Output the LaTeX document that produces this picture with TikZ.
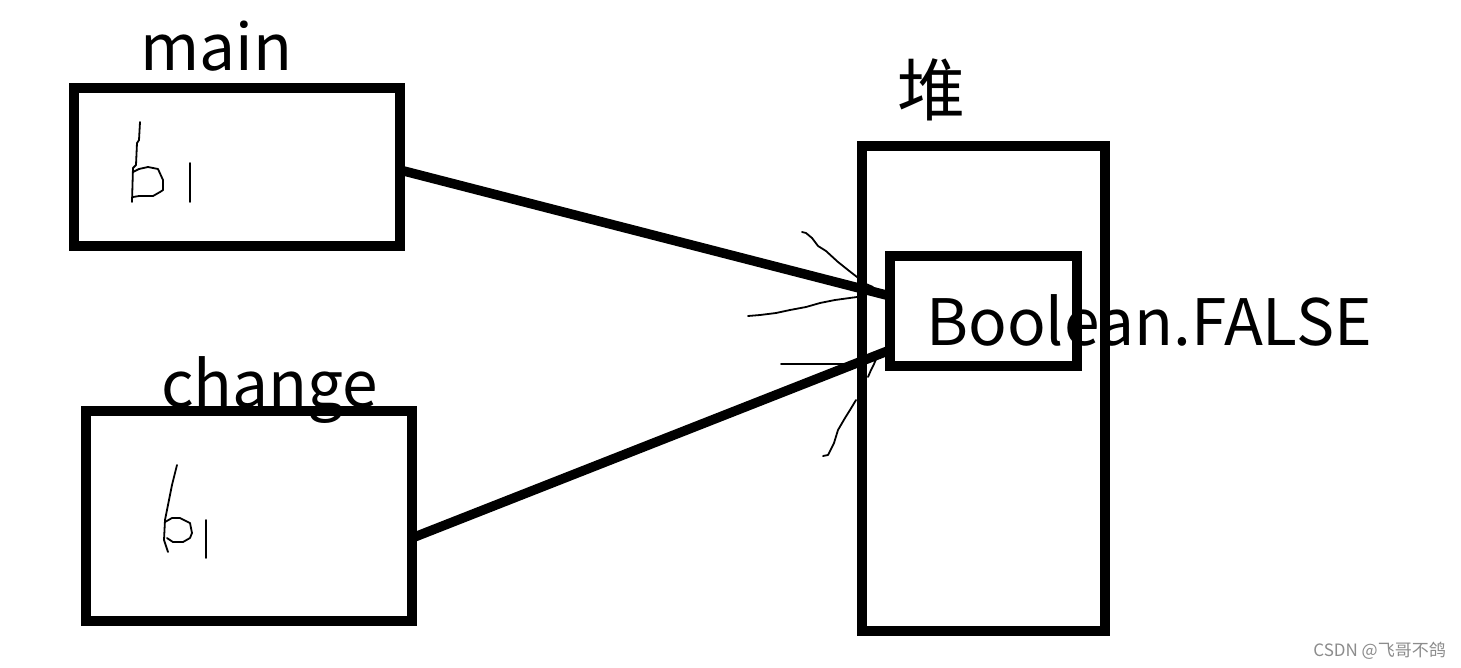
\documentclass[tikz,border=0pt]{standalone}
\usepackage{fontspec}
\setmainfont{Noto Sans CJK SC}
\newfontfamily\cjk{Noto Sans CJK SC}
\begin{document}
\begin{tikzpicture}[x=1pt,y=-1pt,
  frame/.style={draw=black,line width=9.5pt,inner sep=0pt,outer sep=0pt},
  link/.style={draw=black,line width=9.5pt},
  scribble/.style={draw=black,line width=1.8pt,line join=round,line cap=round},
  lbl/.style={inner sep=0pt,anchor=base west,font=\fontsize{64}{70}\selectfont},
  wmark/.style={inner sep=0pt,anchor=base east,font=\fontsize{17}{20}\selectfont,text=black!45}]
\useasboundingbox (0,0) rectangle (1461,667);
\fill[white] (0,0) rectangle (1461,667);
% boxes
\node[frame,minimum width=326pt,minimum height=158pt] (mainbox) at (237,167) {};
\node[frame,minimum width=326pt,minimum height=210pt] (changebox) at (249,516) {};
\node[frame,minimum width=243pt,minimum height=485pt] (heap) at (983.5,388.5) {};
\node[frame,minimum width=187pt,minimum height=110pt] (obj) at (983.5,311) {};
% labels
\node[lbl] (tmain) at (140,70) {main};
\node[lbl] (tchange) at (161,407) {change};
\node[lbl] (tbool) at (926,345) {Boolean.FALSE};
\node[lbl,font=\cjk\fontsize{68}{72}\selectfont] (theap) at (897,115) {堆};
\node[wmark] (wm) at (1446,656) {CSDN @飞哥不鸽};
% connector end points
\coordinate (s1) at ([yshift=-3pt]mainbox.east);
\coordinate (e1) at ([yshift=15pt]obj.west);
\coordinate (s2) at ([yshift=-22pt]changebox.east);
\coordinate (e2) at ([yshift=-39pt]obj.west);
\draw[link] (s1) -- (e1);
\draw[link] (s2) -- (e2);
% hand-drawn arrow strokes
\draw[scribble] (802,232) -- (806,233) -- (812,238) -- (818,246) -- (826,251) -- (838,262) -- (848,270) -- (857,277) -- (866,284) -- (873,287);
\draw[scribble] (748,316) -- (760,315) -- (776,313) -- (790,310) -- (806,307) -- (820,303) -- (835,300) -- (857,297);
\draw[scribble] (781,364) -- (862,364);
\draw[scribble] (868,377) -- (871,370) -- (874,364) -- (877,357);
\draw[scribble] (823,456) -- (828,455) -- (834,443) -- (838,430) -- (845,418) -- (850,410) -- (856,400);
% handwritten "b1" in main
\draw[scribble] (140,122) -- (139,140) -- (137,143) -- (136,165) -- (133,168) -- (132,202);
\draw[scribble] (133,172) -- (139,169) -- (148,167) -- (158,169) -- (163,180) -- (163,190) -- (160,192) -- (153,196) -- (139,196) -- (133,197);
\draw[scribble] (190,163) -- (190,202);
% handwritten "b1" in change
\draw[scribble] (177,465) -- (172,485) -- (168,505) -- (165,520) -- (164,540) -- (168,552);
\draw[scribble] (165,522) -- (172,518) -- (180,518) -- (190,523) -- (192,533) -- (190,538) -- (183,542) -- (173,542) -- (167,538);
\draw[scribble] (206,520) -- (206,558);
\end{tikzpicture}
\end{document}
